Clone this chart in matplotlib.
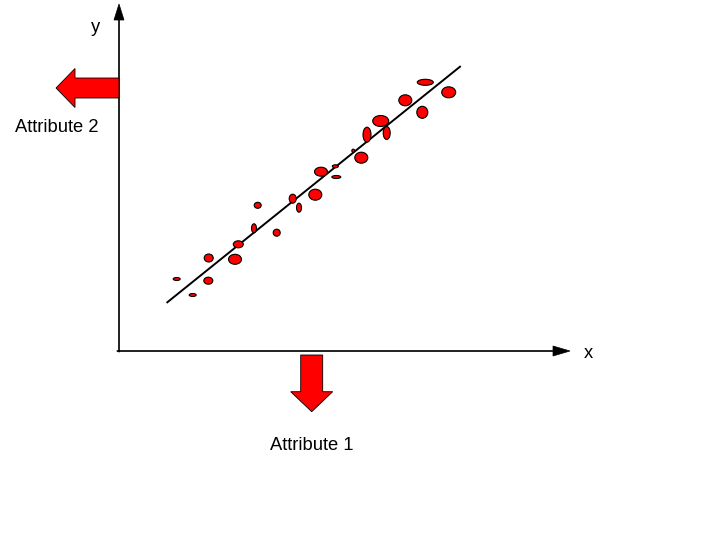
import matplotlib
matplotlib.use("Agg")
import matplotlib.pyplot as plt
from matplotlib.patches import Ellipse, FancyArrow

# scatter blobs in picture pixels: centre x, centre y, width, height
blob_x = [176.7, 192.7, 208.3, 208.7, 235.0, 238.3, 254.0, 257.7, 276.7, 292.7, 299.0, 315.3,
          321.0, 335.3, 336.3, 353.3, 361.3, 367.0, 380.7, 386.7, 405.3, 422.3, 425.3, 448.7]
blob_y = [279.0, 295.0, 280.7, 258.0, 259.3, 244.3, 228.3, 205.3, 232.7, 198.7, 207.7, 194.7,
          171.7, 166.3, 177.0, 150.7, 157.7, 134.7, 121.0, 133.0, 100.3, 112.3, 82.3, 92.3]
blob_w = [7, 7, 9, 9, 13, 10, 5, 7, 7, 7, 5, 13, 13, 6, 9, 3, 13, 8, 16, 7, 13, 11, 16, 14]
blob_h = [3, 3, 7, 8, 10, 7, 9, 6, 7, 9, 9, 11, 9, 3, 3, 3, 11, 15, 11, 13, 11, 12, 6, 11]

# fitted line end points
line_x = [167.3, 460.0]
line_y = [302.3, 66.7]

fig = plt.figure(figsize=(7.2, 5.4), dpi=100)
ax = fig.add_axes([0, 0, 1, 1])
ax.set_xlim(0, 720)
ax.set_ylim(540, 0)
ax.axis("off")

# axes with arrow heads
ax.add_patch(FancyArrow(117, 351, 453, 0, width=1.0, head_width=10, head_length=17,
                        length_includes_head=True, color="black", lw=0.5))
ax.add_patch(FancyArrow(119, 352, 0, -348, width=1.0, head_width=10, head_length=16,
                        length_includes_head=True, color="black", lw=0.5))

ax.plot(line_x, line_y, color="black", lw=1.4, zorder=2)

for x, y, w, h in zip(blob_x, blob_y, blob_w, blob_h):
    ax.add_patch(Ellipse((x, y), w, h, facecolor="#ff0000", edgecolor="black", lw=0.8, zorder=3))

# projection arrows
ax.add_patch(FancyArrow(119, 88, -63, 0, width=20, head_width=39, head_length=19,
                        length_includes_head=True, facecolor="#ff0000", edgecolor="black", lw=0.6))
ax.add_patch(FancyArrow(311.7, 355, 0, 56.7, width=22, head_width=42, head_length=20,
                        length_includes_head=True, facecolor="#ff0000", edgecolor="black", lw=0.6))

font = dict(family="Liberation Sans", fontsize=13.2, color="black")
ax.text(96, 27, "y", ha="center", va="center", **font)
ax.text(588, 353, "x", ha="center", va="center", **font)
ax.text(57, 128, "Attribute 2", ha="center", va="center", **font)
ax.text(312, 445, "Attribute 1", ha="center", va="center", **font)

fig.savefig("out.png", dpi=100)
